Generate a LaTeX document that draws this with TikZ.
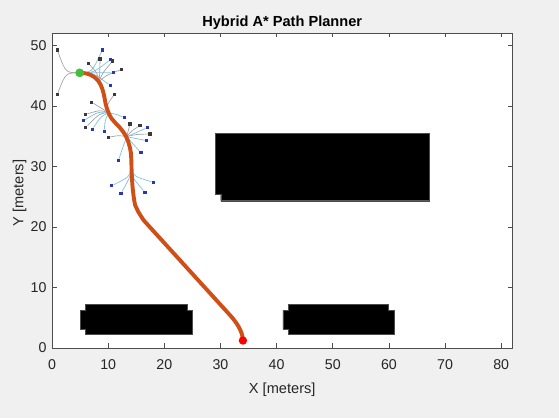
\documentclass[tikz,border=0pt]{standalone}
\usepackage{fontspec}
\setmainfont{Liberation Sans}
\definecolor{figbg}{HTML}{F0F0F0}
\definecolor{axcol}{HTML}{4D4D4D}
\definecolor{txtcol}{HTML}{262626}
\definecolor{pathcol}{HTML}{CF4F17}
\definecolor{treegray}{HTML}{A0A0A0}
\definecolor{treeblue}{HTML}{86C4E6}
\definecolor{markdark}{HTML}{3A3A3A}
\definecolor{markblue}{HTML}{2B35B5}
\definecolor{startgreen}{HTML}{46BE3C}
\begin{document}
\begin{tikzpicture}[x=1pt,y=-1pt,
  gline/.style={draw=treegray,line width=0.65pt},
  bline/.style={draw=treeblue,line width=0.75pt},
  gmark/.style={rectangle,minimum size=3.3pt,inner sep=0pt},
  bmark/.style={rectangle,minimum size=3.3pt,inner sep=0pt},
  axisline/.style={draw=axcol,line width=0.6pt},
  ticklab/.style={text=txtcol,font=\fontsize{14.2}{16}\selectfont,inner sep=0pt},
  axlab/.style={text=txtcol,font=\fontsize{14.6}{17}\selectfont,inner sep=0pt},
  obst/.style={fill=black,draw=black!70,line width=0.4pt},
  pathline/.style={draw=pathcol,line width=3.9pt,line cap=round,line join=round}]
\fill[figbg] (0,0) rectangle (559,418);
\useasboundingbox (0,0) rectangle (559,418);
\fill[white] (52,32.8) rectangle (512.3,347.8);

% data coordinate system
\begin{scope}[shift={(52pt,-347.8pt)},x=5.615pt,y=6.05pt]
  \draw[obst] (29.03,35.45) -- (67.1,35.45) -- (67.1,24.31) -- (30.05,24.31) -- (30.05,25.42) -- (29.03,25.42) -- cycle;
  \draw[obst] (6,7.19) -- (24.04,7.19) -- (24.04,6.2) -- (25,6.2) -- (25,2.23) -- (6,2.23) -- (6,3.06) -- (4.99,3.06) -- (4.99,6.2) -- (6,6.2) -- cycle;
  \draw[obst] (42.1,7.19) -- (59.9,7.19) -- (59.9,6.2) -- (60.9,6.2) -- (60.9,2.23) -- (42.1,2.23) -- (42.1,3.06) -- (41.1,3.06) -- (41.1,6.2) -- (42.1,6.2) -- cycle;
  \coordinate (startpt) at (4.93,45.45);
  \coordinate (goalpt) at (34,1.2);
  \coordinate (bend2) at (31.7,5.4);
\end{scope}

% search tree (pixel coordinates)
\coordinate (hA) at (79.6,72.8);
\coordinate (hB) at (99,82);
\coordinate (hC) at (109,113);
\coordinate (hD) at (126.7,136.7);
\coordinate (hE) at (131,168);

\node[gmark] (g1) at (57.3,50) {};
\node[gmark] (g2) at (57.3,94.5) {};
\node[bmark] (b1) at (102.3,50) {};
\node[bmark] (b2) at (110.7,59.3) {};
\node[bmark] (b3) at (113.3,72.7) {};
\node[bmark] (b4) at (110.3,85.7) {};
\node[gmark] (g3) at (88.3,63.3) {};
\node[gmark] (g4) at (100,59) {};
\node[gmark] (g5) at (112.7,61) {};
\node[gmark] (g6) at (121.7,69.3) {};
\node[gmark] (g7) at (114.5,94.3) {};
\node[gmark] (g8) at (91.7,102.3) {};
\node[gmark] (g9) at (85.7,114.3) {};
\node[gmark] (g10) at (85.7,127.5) {};
\node[bmark] (b5) at (83.3,120.7) {};
\node[bmark] (b6) at (92.3,129.3) {};
\node[bmark] (b7) at (104.3,131.3) {};
\node[bmark] (b8) at (124.5,117.7) {};
\node[gmark] (g11) at (108.3,137.3) {};
\node[gmark] (g12) at (130,124) {};
\node[gmark] (g13) at (140,125.7) {};
\node[gmark] (g14) at (150,134) {};
\node[bmark] (b9) at (147.3,127.7) {};
\node[bmark] (b10) at (146.7,140.7) {};
\node[bmark] (b11) at (141,152.7) {};
\node[bmark] (b12) at (118.3,160.7) {};
\node[bmark] (b13) at (111.7,185.7) {};
\node[bmark] (b14) at (121,193.3) {};
\node[bmark] (b15) at (145,192.3) {};
\node[bmark] (b16) at (153.3,182.3) {};

\draw[gline] (hA) .. controls +(180:14) .. (g1);
\draw[gline] (hA) .. controls +(180:14) .. (g2);
\draw[bline] (hA) .. controls +(0:12) .. (b1);
\draw[bline] (hA) .. controls +(0:14) .. (b2);
\draw[bline] (hA) .. controls +(0:16) .. (b3);
\draw[bline] (hA) .. controls +(0:14) .. (b4);
\draw[gline] (hB) .. controls +(-100:9) .. (g3);
\draw[gline] (hB) .. controls +(-85:9) .. (g4);
\draw[gline] (hB) .. controls +(-70:9) .. (g5);
\draw[gline] (hB) .. controls +(-45:9) .. (g6);
\draw[gline] (hC) .. controls +(-110:8) .. (g7);
\draw[gline] (hC) .. controls +(215:9) .. (g8);
\draw[gline] (hC) .. controls +(200:9) .. (g9);
\draw[gline] (hC) .. controls +(180:9) .. (g10);
\draw[bline] (hC) .. controls +(190:10) .. (b5);
\draw[bline] (hC) .. controls +(160:8) .. (b6);
\draw[bline] (hC) .. controls +(120:8) .. (b7);
\draw[bline] (hC) .. controls +(10:8) .. (b8);
\draw[gline] (hD) .. controls +(190:8) .. (g11);
\draw[gline] (hD) .. controls +(-75:6) .. (g12);
\draw[gline] (hD) .. controls +(-50:8) .. (g13);
\draw[gline] (hD) .. controls +(-15:9) .. (g14);
\draw[bline] (hD) .. controls +(-25:10) .. (b9);
\draw[bline] (hD) .. controls +(10:10) .. (b10);
\draw[bline] (hD) .. controls +(50:10) .. (b11);
\draw[bline] (hD) .. controls +(110:10) .. (b12);
\draw[bline] (hE) .. controls +(100:9) .. (b13);
\draw[bline] (hE) .. controls +(95:9) .. (b14);
\draw[bline] (hE) .. controls +(85:9) .. (b15);
\draw[bline] (hE) .. controls +(70:9) .. (b16);

% markers drawn on top of their arcs
\foreach \m in {g1,g2,g3,g4,g5,g6,g7,g8,g9,g10,g11,g12,g13,g14}{\fill[markdark] ([xshift=-1.65pt,yshift=-1.65pt]\m.center) rectangle ([xshift=1.65pt,yshift=1.65pt]\m.center);}
\foreach \m in {b1,b2,b3,b4,b5,b6,b7,b8,b9,b10,b11,b12,b13,b14,b15,b16}{\fill[markblue] ([xshift=-1.65pt,yshift=-1.65pt]\m.center) rectangle ([xshift=1.65pt,yshift=1.65pt]\m.center);}

% path
\begin{scope}[shift={(52pt,-347.8pt)},x=5.615pt,y=6.05pt]
  \draw[pathline] plot[smooth,tension=0.6] coordinates {(4.93,45.45) (6.3,45.3) (7.6,44.7) (8.6,43.6) (9.2,42.0) (9.7,39.8) (10.6,37.9) (12.0,36.5) (13.2,34.9) (13.9,33.0) (14.1,31.5) (14.2,28.8) (14.4,26.1) (14.8,23.6) (15.3,22.6) (16.3,21.1)} -- (bend2) .. controls (32.9,4.2) and (34,2.6) .. (goalpt);
\end{scope}
\node[circle,fill=startgreen,minimum size=8.8pt,inner sep=0pt] (start) at (startpt) {};
\node[circle,fill=red,minimum size=8.4pt,inner sep=0pt] (goal) at (goalpt) {};

% axes
\draw[axisline] (52,32.8) rectangle (512.3,347.8);
\begin{scope}[shift={(52pt,-347.8pt)},x=5.615pt,y=6.05pt]
  \foreach \v in {0,10,...,80}{
    \draw[axisline] (\v,0) -- ++(0pt,4.6pt);
    \draw[axisline] (\v,52.07) -- ++(0pt,-4.6pt);
    \node[ticklab] (xt\v) at ([yshift=-16.8pt]\v,0) {\v};
  }
  \foreach \v in {0,10,...,50}{
    \draw[axisline] (0,\v) -- ++(4.6pt,0pt);
    \draw[axisline] (81.98,\v) -- ++(-4.6pt,0pt);
    \node[ticklab,anchor=east] (yt\v) at ([xshift=-5.3pt]0,\v) {\v};
  }
  \node[axlab,anchor=base] (xlab) at ([yshift=-45.2pt]41,0) {X [meters]};
\end{scope}
\node[axlab,rotate=90] (ylab) at (19.7,193) {Y [meters]};
\node[axlab,anchor=base,font=\fontsize{14.6}{17}\selectfont\bfseries,text=black] (title) at (282.2,26.7) {Hybrid A* Path Planner};
\end{tikzpicture}
\end{document}
